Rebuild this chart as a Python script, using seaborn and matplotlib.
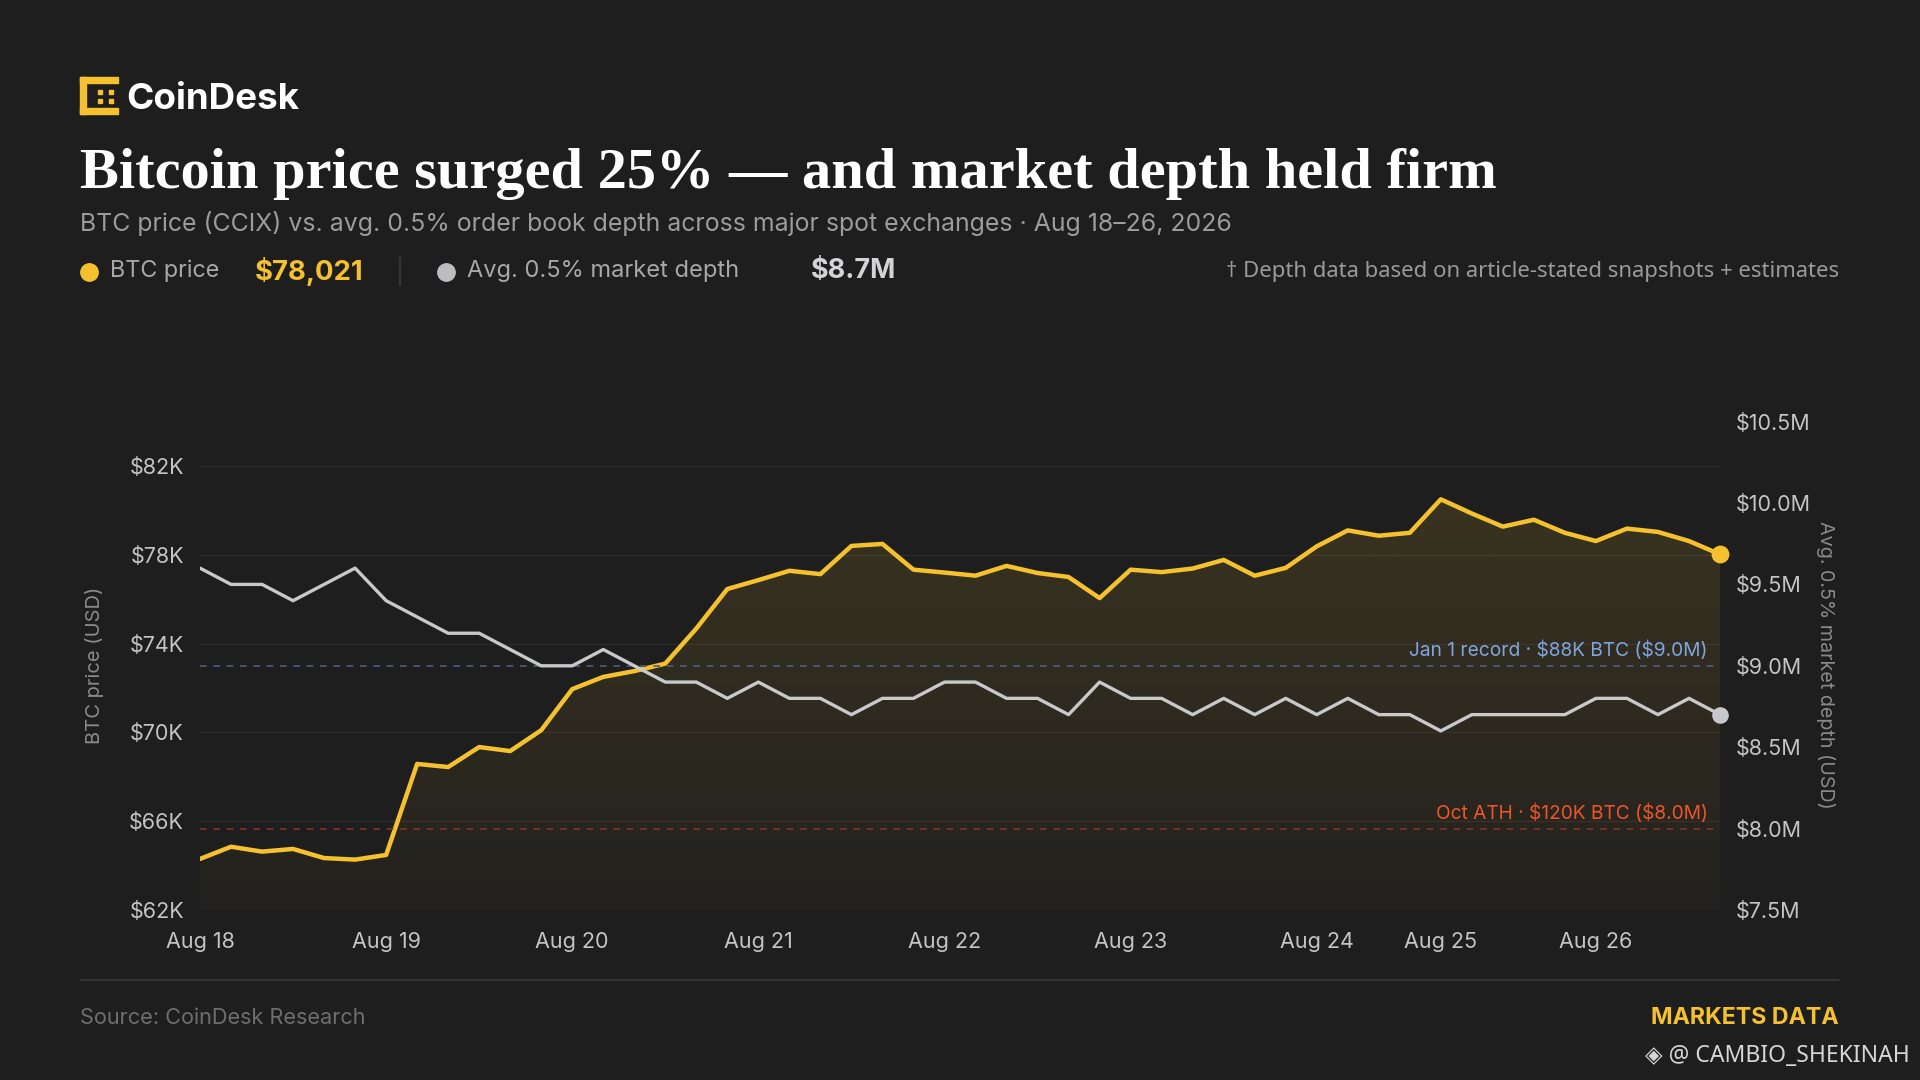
import numpy as np
import pandas as pd
import matplotlib
matplotlib.use("Agg")
import matplotlib.pyplot as plt
import seaborn as sns
from matplotlib.patches import Rectangle
from matplotlib.lines import Line2D

# 4-hourly samples, Aug 18 00:00 -> Aug 26 (index based x axis)
btc_price_k = [64.30, 64.85, 64.63, 64.75, 64.34, 64.27, 64.48, 68.58, 68.44, 69.34,
               69.16, 70.10, 71.95, 72.50, 72.76, 73.10, 74.68, 76.46, 76.86, 77.28,
               77.13, 78.40, 78.49, 77.33, 77.20, 77.06, 77.50, 77.18, 77.00, 76.05,
               77.33, 77.22, 77.38, 77.77, 77.06, 77.41, 78.38, 79.10, 78.86, 78.99,
               80.50, 79.86, 79.27, 79.58, 78.99, 78.62, 79.18, 79.03, 78.62, 78.021]
depth_m = [9.6, 9.5, 9.5, 9.4, 9.5, 9.6, 9.4, 9.3, 9.2, 9.2,
           9.1, 9.0, 9.0, 9.1, 9.0, 8.9, 8.9, 8.8, 8.9, 8.8,
           8.8, 8.7, 8.8, 8.8, 8.9, 8.9, 8.8, 8.8, 8.7, 8.9,
           8.8, 8.8, 8.7, 8.8, 8.7, 8.8, 8.7, 8.8, 8.7, 8.7,
           8.6, 8.7, 8.7, 8.7, 8.7, 8.8, 8.8, 8.7, 8.8, 8.7]
day_labels = ["Aug 18", "Aug 19", "Aug 20", "Aug 21", "Aug 22",
              "Aug 23", "Aug 24", "Aug 25", "Aug 26"]
day_start_idx = [0, 6, 12, 18, 24, 30, 36, 40, 45]
price_ticks = [62, 66, 70, 74, 78, 82]
depth_ticks = [7.5, 8.0, 8.5, 9.0, 9.5, 10.0, 10.5]
ref_levels = [9.0, 8.0]
ref_labels = [r"Jan 1 record · \$88K BTC (\$9.0M)", r"Oct ATH · \$120K BTC (\$8.0M)"]

BG = "#1e1e1e"
YELLOW = "#f5c12e"
WHITE = "#c9c9cb"
GRID = "#2b2b2b"
TICK = "#c4c4c4"
MUTED = "#8a8a8a"

df = pd.DataFrame({"idx": np.arange(len(btc_price_k)),
                   "price": btc_price_k, "depth": depth_m})

sns.set_theme(style="dark")
plt.rcParams["font.family"] = ["Inter", "DejaVu Sans"]
plt.rcParams["axes.facecolor"] = BG
plt.rcParams["figure.facecolor"] = BG

fig = plt.figure(figsize=(19.2, 10.8), dpi=100)
W, H = 1920.0, 1080.0


def fx(px):
    return px / W


def fy(py):
    return 1 - py / H


def dot(px, py, color, size):
    fig.add_artist(Line2D([fx(px)], [fy(py)], marker="o", markersize=size,
                          color=color, linestyle="none"))


ax = fig.add_axes([fx(200), fy(910), fx(1720) - fx(200), fy(421.6) - fy(910)])
ax2 = ax.twinx()

# gradient fill under the price line
poly = ax.fill_between(df["idx"], df["price"], 62, facecolor="none", edgecolor="none")
n = 256
rgba = np.zeros((n, 1, 4))
rgba[:, 0, :3] = matplotlib.colors.to_rgb(YELLOW)
rgba[:, 0, 3] = np.linspace(0.15, 0.025, n)
im = ax.imshow(rgba, extent=[0, len(df) - 1, 62, 84], aspect="auto",
               origin="upper", zorder=1, interpolation="bilinear")
im.set_clip_path(poly.get_paths()[0], transform=ax.transData)

sns.lineplot(data=df, x="idx", y="price", ax=ax, color=YELLOW, linewidth=3.2, zorder=4)
sns.lineplot(data=df, x="idx", y="depth", ax=ax2, color=WHITE, linewidth=2.4, zorder=3)

ax.scatter([df["idx"].iloc[-1]], [df["price"].iloc[-1]], s=140, color=YELLOW,
           zorder=6, clip_on=False)
ax2.scatter([df["idx"].iloc[-1]], [df["depth"].iloc[-1]], s=120, color=WHITE,
            zorder=6, clip_on=False)

# reference levels (on depth axis)
ax2.axhline(ref_levels[0], color="#4d5c82", linestyle=(0, (4, 4)), linewidth=1.2, zorder=2)
ax2.axhline(ref_levels[1], color="#7c3428", linestyle=(0, (4, 4)), linewidth=1.2, zorder=2)
ax2.text(48.6, ref_levels[0] + 0.035, ref_labels[0], color="#7ea7df", fontsize=13.8,
         ha="right", va="bottom")
ax2.text(48.6, ref_levels[1] + 0.035, ref_labels[1], color="#ee5529", fontsize=13.8,
         ha="right", va="bottom")

ax.set_xlim(0, len(df) - 1)
ax.set_ylim(62, 84)
ax2.set_ylim(7.5, 10.5)

ax.set_xticks(day_start_idx)
ax.set_xticklabels(day_labels)
ax.set_yticks(price_ticks)
ax.set_yticklabels([f"${t}K" for t in price_ticks])
ax2.set_yticks(depth_ticks)
ax2.set_yticklabels([f"${t:.1f}M" for t in depth_ticks])

ax.tick_params(axis="x", colors=TICK, labelsize=15.5, length=0, pad=16)
ax.tick_params(axis="y", colors=TICK, labelsize=15.5, length=0, pad=11.5)
ax2.tick_params(axis="y", colors=TICK, labelsize=15.5, length=0, pad=11.5)
ax.yaxis.grid(True, color=GRID, linewidth=1.0)
ax.xaxis.grid(False)
ax2.grid(False)
for a in (ax, ax2):
    for s in a.spines.values():
        s.set_visible(False)
ax.set_xlabel("")
ax.set_ylabel("")
ax2.set_ylabel("")

fig.text(fx(94), fy(665), "BTC price (USD)", rotation=90, color=MUTED,
         fontsize=14.5, ha="center", va="center")
fig.text(fx(1825), fy(665), "Avg. 0.5% market depth (USD)", rotation=270, color=MUTED,
         fontsize=14.2, ha="center", va="center")

# header: logo
ic = YELLOW
for (x0, y0, w, h) in [(80, 77, 38, 6), (80, 77, 6, 37), (80, 108, 38, 6)]:
    fig.patches.append(Rectangle((fx(x0), fy(y0 + h)), w / W, h / H,
                                 transform=fig.transFigure, color=ic))
for (cx, cy) in [(100, 92), (111, 92), (100, 101), (111, 101)]:
    fig.patches.append(Rectangle((fx(cx - 2), fy(cy + 2)), 4 / W, 4 / H,
                                 transform=fig.transFigure, color=ic))
fig.text(fx(126), fy(99.5), "CoinDesk", color="white", fontsize=26.5, fontweight="bold",
         ha="left", va="center")

fig.text(fx(80), fy(174), "Bitcoin price surged 25% — and market depth held firm",
         family=["Liberation Serif", "DejaVu Serif"], fontweight="bold", fontsize=42,
         color="white", ha="left", va="center")
fig.text(fx(80), fy(223.5),
         "BTC price (CCIX) vs. avg. 0.5% order book depth across major spot exchanges · Aug 18–26, 2026",
         color="#9c9c9c", fontsize=17.9, ha="left", va="center")

# legend row
ly = 271
dot(89, ly + 1, YELLOW, 12.5)
fig.text(fx(110), fy(ly), "BTC price", color="#a8a8a8", fontsize=16.8, ha="left", va="center")
fig.text(fx(255), fy(ly), "$78,021", color=YELLOW, fontsize=19.8, fontweight="bold",
         ha="left", va="center")
fig.add_artist(Line2D([fx(400), fx(400)], [fy(257), fy(285)], color="#3a3a3a", linewidth=1.2))
dot(446, ly + 1, "#bdbdc0", 12.5)
fig.text(fx(467), fy(ly), "Avg. 0.5% market depth", color="#a8a8a8", fontsize=17,
         ha="left", va="center")
fig.text(fx(811), fy(ly), "$8.7M", color="#d4d4d6", fontsize=19.5, fontweight="bold",
         ha="left", va="center")
fig.text(fx(1839), fy(ly), "† Depth data based on article-stated snapshots + estimates",
         color="#9a9a9a", fontsize=15.9, ha="right", va="center",
         family=["Noto Sans", "DejaVu Sans"])

# footer
fig.add_artist(Line2D([fx(80), fx(1839)], [fy(980), fy(980)], color="#363636", linewidth=1.3))
fig.text(fx(80), fy(1018.5), "Source: CoinDesk Research", color="#6e6e6e", fontsize=15.6,
         ha="left", va="center")
fig.text(fx(1839), fy(1018.5), "MARKETS DATA", color=YELLOW, fontsize=16.7, fontweight="bold",
         ha="right", va="center")
fig.text(fx(1910), fy(1055.5), "◈ @ CAMBIO_SHEKINAH", color="#d6d6d6", fontsize=16.5,
         family=["Noto Sans", "DejaVu Sans"], ha="right", va="center")

fig.savefig("out.png", dpi=100, facecolor=BG)
